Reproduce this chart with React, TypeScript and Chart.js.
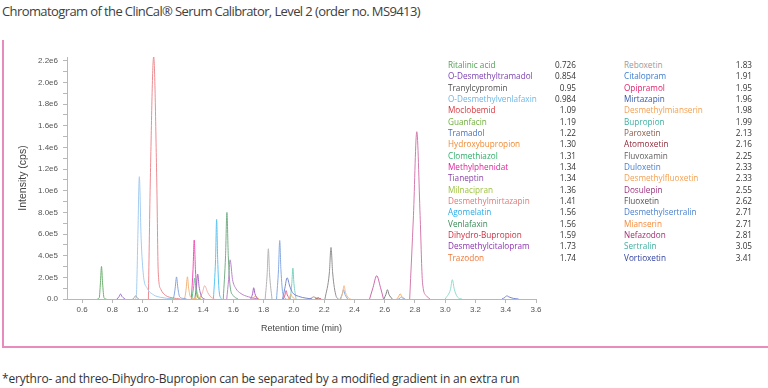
import React, { useEffect, useRef } from "react";
import { Chart, registerables } from "chart.js";

Chart.register(...registerables);

const TITLE = "Chromatogram of the ClinCal\u00AE Serum Calibrator, Level 2 (order no. MS9413)";
const FOOTNOTE = "*erythro- and threo-Dihydro-Bupropion can be separated by a modified gradient in an extra run";
const X_TITLE = "Retention time (min)";
const Y_TITLE = "Intensity (cps)";

const LEFT_NAMES = [
  "Ritalinic acid", "O-Desmethyltramadol", "Tranylcypromin", "O-Desmethylvenlafaxin",
  "Moclobemid", "Guanfacin", "Tramadol", "Hydroxybupropion", "Clomethiazol",
  "Methylphenidat", "Tianeptin", "Milnacipran", "Desmethylmirtazapin", "Agomelatin",
  "Venlafaxin", "Dihydro-Bupropion", "Desmethylcitalopram", "Trazodon",
];
const LEFT_RT = [
  "0.726", "0.854", "0.95", "0.984", "1.09", "1.19", "1.22", "1.30", "1.31",
  "1.34", "1.34", "1.36", "1.41", "1.56", "1.56", "1.59", "1.73", "1.74",
];
const LEFT_COLORS = [
  "#4f9f52", "#7a3fb0", "#505050", "#6cb8e8", "#d8383e", "#6fae3c", "#4470c0",
  "#f08a30", "#2fae6a", "#e0249c", "#8a45a8", "#9cc23c", "#e07a78", "#28acea",
  "#3a8a58", "#cc3040", "#9034b0", "#f07838",
];

const RIGHT_NAMES = [
  "Reboxetin", "Citalopram", "Opipramol", "Mirtazapin", "Desmethylmianserin",
  "Bupropion", "Paroxetin", "Atomoxetin", "Fluvoxamin", "Duloxetin",
  "Desmethylfluoxetin", "Dosulepin", "Fluoxetin", "Desmethylsertralin", "Mianserin",
  "Nefazodon", "Sertralin", "Vortioxetin",
];
const RIGHT_RT = [
  "1.83", "1.91", "1.95", "1.96", "1.98", "1.99", "2.13", "2.16", "2.25", "2.33",
  "2.33", "2.55", "2.62", "2.71", "2.71", "2.81", "3.05", "3.41",
];
const RIGHT_COLORS = [
  "#9a9a9a", "#3a7cd0", "#e0206a", "#3456b0", "#f5a050", "#3cb0a0", "#8a5a48",
  "#902838", "#606060", "#4a80d0", "#f5a050", "#a03080", "#505050", "#4a80d0",
  "#f58a38", "#a03070", "#40b0a0", "#3040a0",
];

const X_TICKS = [0.6, 0.8, 1.0, 1.2, 1.4, 1.6, 1.8, 2.0, 2.2, 2.4, 2.6, 2.8, 3.0, 3.2, 3.4, 3.6];
const Y_TICKS = [
  0, 1e5, 2e5, 3e5, 4e5, 5e5, 6e5, 7e5, 8e5, 9e5, 1e6, 1.1e6, 1.2e6, 1.3e6, 1.4e6,
  1.5e6, 1.6e6, 1.7e6, 1.8e6, 1.9e6, 2.0e6, 2.1e6, 2.2e6,
];
const Y_TICK_LABELS = [
  "0.0", "", "2.0e5", "", "4.0e5", "", "6.0e5", "", "8.0e5", "", "1.0e6", "",
  "1.2e6", "", "1.4e6", "", "1.6e6", "", "1.8e6", "", "2.0e6", "", "2.2e6",
];

// Chromatogram traces: [retention time (min), intensity (cps)]
const TRACE_NAMES = [
  "Ritalinic acid", "O-Desmethyltramadol", "Tranylcypromin", "O-Desmethylvenlafaxin",
  "Guanfacin", "Tramadol", "Hydroxybupropion", "Milnacipran", "Clomethiazol",
  "Tianeptin", "Methylphenidat", "Desmethylmirtazapin", "Agomelatin", "Venlafaxin",
  "Dihydro-Bupropion", "Desmethylcitalopram", "Trazodon", "Reboxetin", "Citalopram",
  "Opipramol", "Mirtazapin", "Desmethylmianserin", "Bupropion", "Paroxetin",
  "Atomoxetin", "Fluvoxamin", "Desmethylfluoxetin", "Duloxetin", "Dosulepin",
  "Fluoxetin", "Mianserin", "Desmethylsertralin", "Sertralin", "Vortioxetin",
  "Moclobemid", "Nefazodon",
];
const TRACE_COLORS = [
  "#6cb06e", "#9a6ad0", "#a0a0a0", "#a4cdf0",
  "#9cc870", "#86a2da", "#f3b47a", "#bcd466", "#5cc488",
  "#a26ac0", "#f050b4", "#f2aca4", "#5cc4f0", "#78ae88",
  "#bc84cc", "#a860c4", "#f5a878", "#b4b4b4", "#86aae2",
  "#ec5e88", "#7888d0", "#f6b070", "#7cd2c0", "#b48878",
  "#b84c5c", "#909090", "#f6b478", "#86aae2", "#cc6aac",
  "#808080", "#f5aa60", "#86aae2", "#90dace", "#7888d0",
  "#ec8c92", "#d47aae",
];
const TRACE_POINTS: number[][][] = [
  [[0.70, 0], [0.713, 0.1e5], [0.721, 1.5e5], [0.728, 3.0e5], [0.735, 1.5e5], [0.745, 0.1e5], [0.76, 0]],
  [[0.83, 0], [0.844, 0.22e5], [0.854, 0.46e5], [0.864, 0.22e5], [0.885, 0]],
  [[0.935, 0], [0.945, 0.15e5], [0.953, 0.3e5], [0.961, 0.15e5], [0.975, 0]],
  [[0.95, 0], [0.958, 0.2e5], [0.968, 5.6e5], [0.978, 1.13e6], [0.99, 5.6e5], [1.005, 2.2e5], [1.03, 1.0e5], [1.07, 0.4e5], [1.12, 0.15e5], [1.2, 0]],
  [[1.17, 0], [1.19, 0.06e5], [1.21, 0]],
  [[1.195, 0], [1.206, 0.2e5], [1.215, 1.0e5], [1.224, 2.04e5], [1.233, 1.0e5], [1.245, 0.2e5], [1.27, 0.05e5], [1.29, 0]],
  [[1.27, 0], [1.28, 0.2e5], [1.288, 1.0e5], [1.296, 2.05e5], [1.304, 1.0e5], [1.316, 0.2e5], [1.34, 0.05e5], [1.36, 0]],
  [[1.345, 0], [1.355, 0.25e5], [1.362, 0.5e5], [1.37, 0.25e5], [1.385, 0]],
  [[1.325, 0], [1.336, 1.0e5], [1.344, 1.92e5], [1.352, 1.0e5], [1.365, 0.15e5], [1.38, 0]],
  [[1.345, 0], [1.355, 1.15e5], [1.364, 2.3e5], [1.373, 1.15e5], [1.39, 0.2e5], [1.41, 0]],
  [[1.322, 0], [1.333, 2.7e5], [1.341, 5.45e5], [1.349, 2.7e5], [1.362, 0.25e5], [1.38, 0]],
  [[1.375, 0], [1.395, 0.6e5], [1.41, 1.23e5], [1.43, 0.6e5], [1.45, 0.2e5], [1.475, 0]],
  [[1.468, 0], [1.482, 3.65e5], [1.489, 7.35e5], [1.496, 3.65e5], [1.505, 0.8e5], [1.52, 0]],
  [[1.533, 0], [1.548, 4.0e5], [1.557, 8.0e5], [1.566, 4.0e5], [1.578, 1.2e5], [1.6, 0.3e5], [1.63, 0]],
  [[1.556, 0], [1.568, 1.8e5], [1.578, 3.62e5], [1.594, 1.8e5], [1.615, 1.0e5], [1.65, 0.5e5], [1.7, 0.2e5], [1.76, 0]],
  [[1.715, 0], [1.727, 0.5e5], [1.734, 1.04e5], [1.742, 0.5e5], [1.76, 0]],
  [[1.725, 0], [1.737, 0.15e5], [1.745, 0.3e5], [1.753, 0.15e5], [1.77, 0]],
  [[1.81, 0], [1.823, 2.3e5], [1.831, 4.64e5], [1.839, 2.3e5], [1.855, 0]],
  [[1.885, 0], [1.898, 2.7e5], [1.906, 5.4e5], [1.914, 2.7e5], [1.928, 0.4e5], [1.95, 0]],
  [[1.93, 0], [1.941, 0.38e5], [1.948, 0.77e5], [1.956, 0.38e5], [1.975, 0]],
  [[1.925, 0], [1.94, 1.0e5], [1.955, 1.96e5], [1.972, 1.2e5], [1.99, 0.6e5], [2.03, 0.25e5], [2.08, 0.08e5], [2.12, 0]],
  [[1.96, 0], [1.972, 0.22e5], [1.98, 0.45e5], [1.988, 0.22e5], [2.005, 0]],
  [[1.976, 0], [1.986, 1.43e5], [1.993, 2.86e5], [2.0, 1.43e5], [2.014, 0]],
  [[2.1, 0], [2.118, 0.1e5], [2.13, 0.2e5], [2.145, 0.1e5], [2.165, 0]],
  [[2.14, 0], [2.152, 0.06e5], [2.16, 0.12e5], [2.168, 0.06e5], [2.18, 0]],
  [[2.205, 0], [2.234, 2.4e5], [2.245, 4.76e5], [2.256, 2.4e5], [2.278, 0.3e5], [2.295, 0]],
  [[2.31, 0], [2.322, 0.6e5], [2.331, 1.23e5], [2.341, 0.6e5], [2.36, 0.1e5], [2.375, 0]],
  [[2.305, 0], [2.319, 0.43e5], [2.328, 0.86e5], [2.337, 0.43e5], [2.355, 0]],
  [[2.5, 0], [2.523, 1.07e5], [2.547, 2.15e5], [2.572, 1.07e5], [2.592, 0]],
  [[2.595, 0], [2.608, 0.43e5], [2.618, 0.86e5], [2.628, 0.43e5], [2.65, 0]],
  [[2.68, 0], [2.693, 0.25e5], [2.702, 0.49e5], [2.712, 0.25e5], [2.73, 0]],
  [[2.69, 0], [2.702, 0.09e5], [2.71, 0.18e5], [2.718, 0.09e5], [2.735, 0]],
  [[3.0, 0], [3.035, 0.9e5], [3.047, 1.78e5], [3.06, 0.9e5], [3.08, 0.2e5], [3.11, 0]],
  [[3.375, 0], [3.395, 0.15e5], [3.407, 0.3e5], [3.42, 0.2e5], [3.45, 0.06e5], [3.485, 0]],
  [[1.038, 0], [1.051, 1.12e6], [1.073, 2.24e6], [1.093, 1.12e6], [1.103, 2.5e5], [1.12, 0.9e5], [1.15, 0.35e5], [1.2, 0.1e5], [1.25, 0]],
  [[2.765, 0], [2.79, 7.7e5], [2.812, 1.545e6], [2.834, 7.7e5], [2.85, 1.5e5], [2.875, 0.3e5], [2.9, 0]],
];

const PINK = "#e78cbc";
const AXIS_GRAY = "#b8b8b8";

function ChromChart() {
  const ref = useRef<HTMLCanvasElement | null>(null);
  useEffect(() => {
    if (!ref.current) return;
    const datasets = TRACE_POINTS.map((pts, i) => ({
      label: TRACE_NAMES[i],
      data: pts.map(([x, y]) => ({ x, y })),
      borderColor: TRACE_COLORS[i],
      borderWidth: 1,
      pointRadius: 0,
      fill: false,
      cubicInterpolationMode: "monotone" as const,
    }));
    const chart = new Chart(ref.current, {
      type: "line",
      data: { datasets },
      options: {
        animation: false,
        responsive: false,
        layout: { padding: { top: 57, right: 9, left: 0, bottom: 0 } },
        plugins: { legend: { display: false }, tooltip: { enabled: false } },
        scales: {
          x: {
            type: "linear",
            min: 0.5,
            max: 3.6,
            afterBuildTicks: (s: any) => {
              s.ticks = X_TICKS.map((v) => ({ value: v }));
            },
            afterFit: (s: any) => {
              s.height = 46;
            },
            ticks: {
              autoSkip: false,
              maxRotation: 0,
              padding: 2,
              color: "#555",
              font: { family: "'Liberation Sans', Arial, sans-serif", size: 8 },
              callback: (v: any) => Number(v).toFixed(1),
            },
            grid: { display: true, drawOnChartArea: false, drawTicks: true, tickLength: 4, color: AXIS_GRAY },
            border: { display: true, color: AXIS_GRAY, width: 1 },
            title: {
              display: true,
              text: X_TITLE,
              color: "#444",
              font: { family: "'Liberation Sans', Arial, sans-serif", size: 9 },
              padding: { top: 0, bottom: 11 },
            },
          },
          y: {
            type: "linear",
            min: 0,
            max: 2.235e6,
            afterBuildTicks: (s: any) => {
              s.ticks = Y_TICKS.map((v) => ({ value: v }));
            },
            afterFit: (s: any) => {
              s.width = 67;
            },
            ticks: {
              autoSkip: false,
              padding: 5,
              color: "#555",
              font: { family: "'Liberation Sans', Arial, sans-serif", size: 8 },
              callback: (_v: any, i: number) => Y_TICK_LABELS[i],
            },
            grid: { display: true, drawOnChartArea: false, drawTicks: true, tickLength: 4, color: AXIS_GRAY },
            border: { display: true, color: AXIS_GRAY, width: 1 },
            title: {
              display: true,
              text: Y_TITLE,
              color: "#444",
              font: { family: "'Liberation Sans', Arial, sans-serif", size: 10.5 },
              padding: { top: 17, bottom: 0 },
            },
          },
        },
      },
    });
    return () => chart.destroy();
  }, []);
  return <canvas ref={ref} width={545} height={345} style={{ display: "block" }} />;
}

const ROW_TOP = 59;
const ROW_H = 11.33;

function LegendColumn({ names, rts, colors, nameX, rtRight }: any) {
  return (
    <>
      {names.map((n: string, i: number) => (
        <React.Fragment key={n + i}>
          <div
            style={{
              position: "absolute",
              left: nameX,
              top: ROW_TOP + i * ROW_H,
              height: 11,
              lineHeight: "11px",
              fontSize: 8.2,
              color: colors[i],
              whiteSpace: "nowrap",
            }}
          >
            {n}
          </div>
          <div
            style={{
              position: "absolute",
              left: rtRight - 40,
              width: 40,
              textAlign: "right",
              top: ROW_TOP + i * ROW_H,
              height: 11,
              lineHeight: "11px",
              fontSize: 8.2,
              color: "#333",
            }}
          >
            {rts[i]}
          </div>
        </React.Fragment>
      ))}
    </>
  );
}

export default function App() {
  return (
    <div
      style={{
        position: "absolute",
        left: 0,
        top: 0,
        width: 768,
        height: 388,
        background: "#fff",
        overflow: "hidden",
        fontFamily: "'Open Sans', sans-serif",
      }}
    >
      <div
        style={{
          position: "absolute",
          left: 2,
          top: 2,
          fontSize: 13,
          letterSpacing: -0.6,
          color: "#404040",
          whiteSpace: "nowrap",
          lineHeight: "18px",
        }}
      >
        {TITLE}
      </div>
      <div style={{ position: "absolute", left: 0, top: 0 }}>
        <ChromChart />
      </div>
      <LegendColumn names={LEFT_NAMES} rts={LEFT_RT} colors={LEFT_COLORS} nameX={448} rtRight={576} />
      <LegendColumn names={RIGHT_NAMES} rts={RIGHT_RT} colors={RIGHT_COLORS} nameX={624} rtRight={752} />
      <div style={{ position: "absolute", left: 2, top: 40, width: 2, height: 308, background: PINK }} />
      <div style={{ position: "absolute", left: 2, top: 346, width: 766, height: 2, background: PINK }} />
      <div
        style={{
          position: "absolute",
          left: 2,
          top: 371,
          fontSize: 12,
          letterSpacing: -0.2,
          color: "#333",
          whiteSpace: "nowrap",
          lineHeight: "16px",
        }}
      >
        {FOOTNOTE}
      </div>
    </div>
  );
}
